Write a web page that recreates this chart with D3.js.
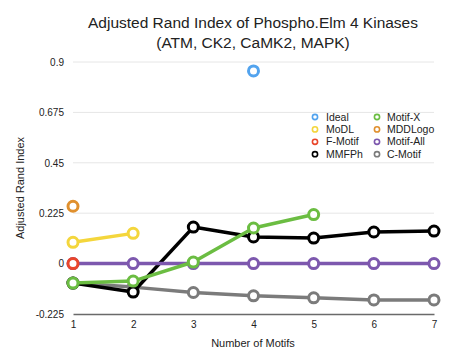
<!DOCTYPE html>
<html>
<head>
<meta charset="utf-8">
<script src="https://cdn.jsdelivr.net/npm/d3@7"></script>
<style>
  body { margin: 0; background: #fff; }
  svg text { font-family: "Liberation Sans", Arial, Helvetica, sans-serif; fill: #222; }
</style>
</head>
<body>
<div id="chart"></div>
<script>
// values
const motifCounts = [1, 2, 3, 4, 5, 6, 7];
const yTicks = [-0.225, 0, 0.225, 0.45, 0.675, 0.9];
const yTickLabels = ["-0.225", "0", "0.225", "0.45", "0.675", "0.9"];

const ideal    = [null, null, null, 0.86, null, null, null];
const modl     = [0.095, 0.135, null, null, null, null, null];
const fMotif   = [0, null, null, null, null, null, null];
const mmfph    = [-0.087, -0.127, 0.163, 0.119, 0.114, 0.141, 0.145];
const motifX   = [-0.087, -0.078, 0.007, 0.159, 0.219, null, null];
const mddLogo  = [0.256, null, null, null, null, null, null];
const motifAll = [0, 0, 0, 0, 0, 0, 0];
const cMotif   = [-0.087, -0.105, -0.129, -0.144, -0.153, -0.162, -0.162];

const seriesNames  = ["Ideal", "MoDL", "F-Motif", "MMFPh", "Motif-X", "MDDLogo", "Motif-All", "C-Motif"];
const seriesValues = [ideal, modl, fMotif, mmfph, motifX, mddLogo, motifAll, cMotif];
const seriesColors = ["#52a3ee", "#f4d63c", "#e9462b", "#000000", "#6bbd42", "#e0902e", "#7d58ae", "#7b7b7b"];
// drawing order, bottom to top
const drawOrder = ["C-Motif", "MMFPh", "Motif-All", "Motif-X", "MoDL", "MDDLogo", "F-Motif", "Ideal"];

const W = 474, H = 361;
const svg = d3.select("#chart").append("svg")
    .attr("width", W)
    .attr("height", H);

const x = d3.scaleLinear().domain([1, 7]).range([73, 434]);
const y = d3.scaleLinear().domain([-0.225, 0.9]).range([314, 62]);

// title
svg.append("text")
    .attr("x", 253).attr("y", 28)
    .attr("text-anchor", "middle")
    .style("font-size", "15.5px")
    .text("Adjusted Rand Index of Phospho.Elm 4 Kinases");
svg.append("text")
    .attr("x", 253).attr("y", 48)
    .attr("text-anchor", "middle")
    .style("font-size", "15.5px")
    .text("(ATM, CK2, CaMK2, MAPK)");

// gridlines
svg.append("g")
    .selectAll("line")
    .data(yTicks.filter(d => d !== -0.225))
    .enter().append("line")
    .attr("x1", x(1)).attr("x2", x(7))
    .attr("y1", d => y(d)).attr("y2", d => y(d))
    .style("stroke", "#e6e6e6")
    .style("stroke-width", 1);

// y axis labels
const yAxis = svg.append("g")
    .attr("transform", "translate(64,0)")
    .call(d3.axisLeft(y).tickValues(yTicks).tickSize(0).tickPadding(0)
        .tickFormat((d, i) => yTickLabels[i]));
yAxis.select(".domain").remove();
yAxis.selectAll("text").style("font-size", "10px").style("fill", "#222");

// x axis
const xAxis = svg.append("g")
    .attr("transform", `translate(0, ${y(-0.225)})`)
    .call(d3.axisBottom(x).tickValues(motifCounts).tickSize(0).tickPadding(7).tickFormat(d3.format("d")));
xAxis.select(".domain")
    .style("stroke", "#6a6a6a")
    .style("stroke-width", 1.5);
xAxis.selectAll("text").style("font-size", "10px").style("fill", "#222");

// axis titles
svg.append("text")
    .attr("transform", "rotate(-90)")
    .attr("x", -188).attr("y", 24)
    .attr("text-anchor", "middle")
    .style("font-size", "11px")
    .text("Adjusted Rand Index");

svg.append("text")
    .attr("x", 253).attr("y", 347)
    .attr("text-anchor", "middle")
    .style("font-size", "11px")
    .text("Number of Motifs");

// lines and points
const line = d3.line()
    .defined(d => d.v !== null)
    .x(d => x(d.x))
    .y(d => y(d.v));

drawOrder.forEach(name => {
    const i = seriesNames.indexOf(name);
    const pts = motifCounts.map((m, j) => ({x: m, v: seriesValues[i][j]}));
    const g = svg.append("g");
    g.append("path")
        .datum(pts)
        .attr("d", line)
        .style("fill", "none")
        .style("stroke", seriesColors[i])
        .style("stroke-width", 3.5)
        .style("stroke-linejoin", "round");
    g.selectAll("circle")
        .data(pts.filter(d => d.v !== null))
        .enter().append("circle")
        .attr("cx", d => x(d.x))
        .attr("cy", d => y(d.v))
        .attr("r", 5)
        .style("fill", "#fff")
        .style("stroke", seriesColors[i])
        .style("stroke-width", 3);
});

// legend, two columns
const legend = svg.selectAll(".legend")
    .data(seriesNames)
    .enter().append("g")
    .attr("class", "legend")
    .attr("transform", (d, i) => `translate(${i < 4 ? 315 : 377}, ${117 + (i % 4) * 12.4})`);

legend.append("circle")
    .attr("r", 2.6)
    .style("fill", "#fff")
    .style("stroke", (d, i) => seriesColors[i])
    .style("stroke-width", 1.6);

legend.append("text")
    .attr("x", (d, i) => i < 4 ? 11 : 10)
    .attr("dy", "0.35em")
    .style("font-size", "10.5px")
    .text(d => d);
</script>
</body>
</html>
